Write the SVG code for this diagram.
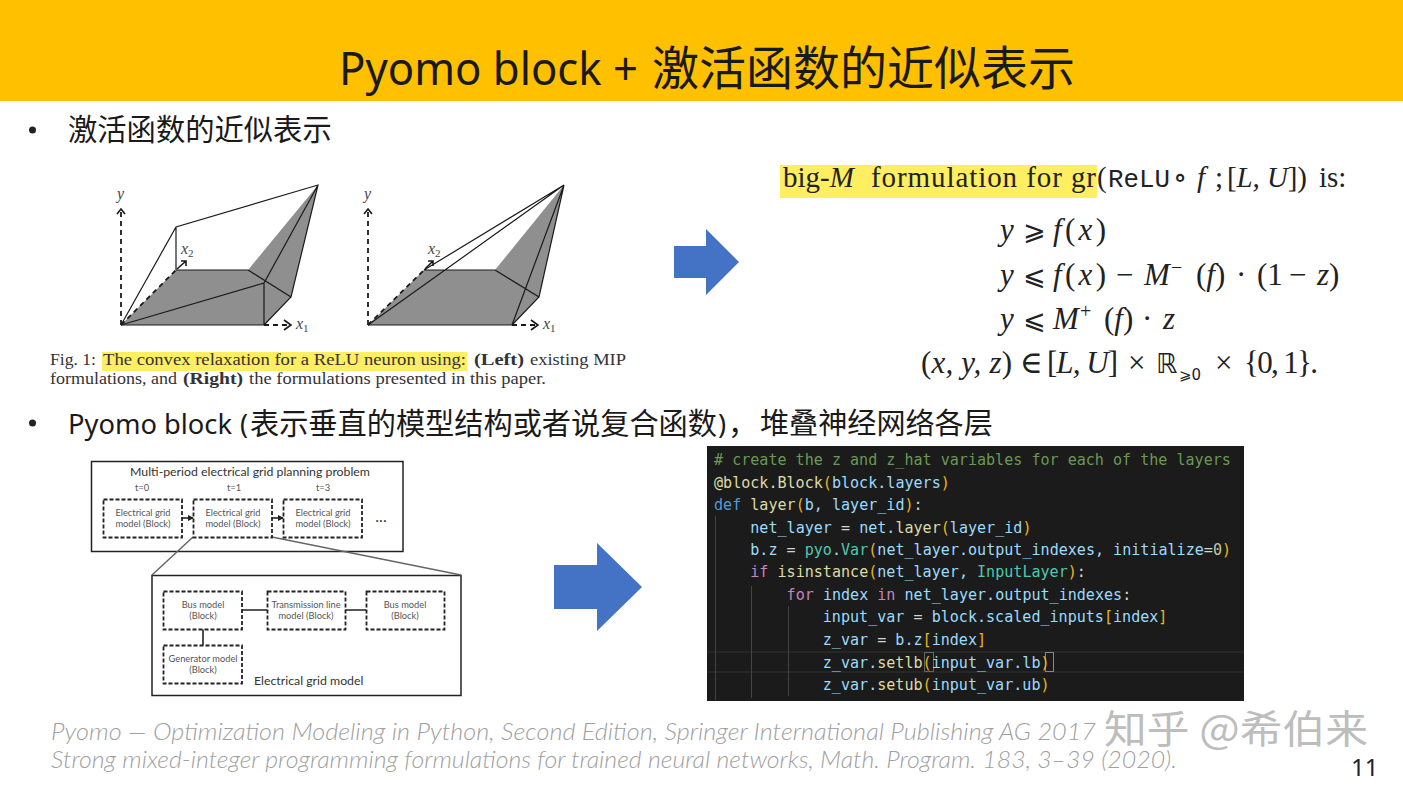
<svg xmlns="http://www.w3.org/2000/svg" width="1403" height="785" viewBox="0 0 1403 785">
<style>
.ui{font-family:"Noto Sans","Noto Sans CJK SC",sans-serif;fill:#1a1a1a}
.cj{font-family:"Noto Sans CJK SC",sans-serif;fill:#1a1a1a}
.m{font-family:"Liberation Serif","DejaVu Serif",serif;font-size:31px;fill:#222}
.m1{font-size:29px}
.i{font-style:italic}
.tt{font-family:"Liberation Mono",monospace;font-size:26px;fill:#222}
.sym{font-family:"DejaVu Sans",sans-serif;font-size:27px;fill:#222}
.sm{font-size:20px}
.cap{font-family:"Liberation Serif",serif;font-size:17px;fill:#333}
.ax{font-family:"Liberation Serif",serif;font-style:italic;font-size:16px;fill:#444}
.sub{font-size:11px;font-style:normal}
.dbox{fill:#fff;stroke:#222;stroke-width:1.800;stroke-dasharray:4 2}
.sbox{fill:#fff;stroke:#222;stroke-width:1.500}
.gl{font-family:Lato,"Open Sans",sans-serif;font-size:9.300px;fill:#555;text-anchor:middle}
.gt{font-family:Lato,"Open Sans",sans-serif;font-size:12.300px;fill:#333}
.code{font-family:"DejaVu Sans Mono",monospace;font-size:15.070px;fill:#9cdcfe;white-space:pre}
.cm{fill:#6a9955}.y{fill:#e8b818}.kw{fill:#569cd6}.pu{fill:#c586c0}.te{fill:#4ec9b0}.fn{fill:#dcdcaa}.nu{fill:#b5cea8}.w{fill:#d4d4d4}
.foot{font-family:Lato,"Open Sans",sans-serif;font-style:italic;font-weight:300;font-size:23.500px;fill:#a0a0a0}
.poly{fill:#8f8f8f;stroke:none}
.ln{fill:none;stroke:#1a1a1a;stroke-width:1.200}
.dash{fill:none;stroke:#1a1a1a;stroke-width:1.800;stroke-dasharray:5 4}
.head{fill:none;stroke:#1a1a1a;stroke-width:1.600}
.conn{fill:none;stroke:#222;stroke-width:1.600}
</style>
<defs>
<marker id="ah" markerWidth="6" markerHeight="6" refX="5" refY="3" orient="auto" markerUnits="userSpaceOnUse"><path d="M0,0L6,3L0,6Z" fill="#222"/></marker>
</defs>
<rect width="1403" height="785" fill="#fff"/>
<g id="header">
<rect width="1403" height="101" fill="#ffc000"/>
<text class="ui" x="339" y="85" font-size="45" textLength="299" lengthAdjust="spacingAndGlyphs">Pyomo block +</text>
<text class="cj" x="652" y="85" font-size="47">激活函数的近似表示</text>
</g>
<g id="bullet1">
<circle cx="32.500" cy="130" r="3.500" fill="#222"/>
<text class="cj" x="68" y="140" font-size="29.300">激活函数的近似表示</text>
</g>
<g id="fig-left">
<polygon class="poly" points="121,325 176,270 248,270 318,185 291,297 264,325"/>
<path class="ln" d="M121,325L176,227L318,185L291,297L264,325M176,227V270M121,325L264,283L318,185M264,283V325M248,270L291,297M176,270H248"/>
<path class="dash" d="M121,325V212M264,325H288M121,325L176,270"/>
<path class="ln" stroke-width="1.600" d="M121,325H264"/>
<path class="head" d="M117,214L121,209L125,214M284,320L291,325L284,330"/>
<path class="head" d="M177,269L186,261M181,261H186V266"/>
<text class="ax" x="117" y="199">y</text>
<text class="ax" x="181" y="254">x<tspan class="sub" dy="3">2</tspan></text>
<text class="ax" x="296" y="329">x<tspan class="sub" dy="3">1</tspan></text>
</g>
<g id="fig-right">
<polygon class="poly" points="368,325 424,270 495,270 564,185 539,297 512,325"/>
<path class="ln" d="M368,325L564,185L424,270M512,325L564,185L539,297L512,325M495,270L539,297M424,270H495"/>
<path class="dash" d="M368,325V212M512,325H535M368,325L424,270"/>
<path class="ln" stroke-width="1.600" d="M368,325H512"/>
<path class="head" d="M364,214L368,209L372,214M531,320L538,325L531,330"/>
<path class="head" d="M425,269L433,261M428,261H433V266"/>
<text class="ax" x="364" y="199">y</text>
<text class="ax" x="428" y="254">x<tspan class="sub" dy="3">2</tspan></text>
<text class="ax" x="543" y="329">x<tspan class="sub" dy="3">1</tspan></text>
</g>
<g id="fig-caption">
<rect x="102" y="352" width="365" height="19" fill="#fdee62"/>
<text class="cap" x="50" y="365" textLength="46" lengthAdjust="spacingAndGlyphs">Fig. 1:</text>
<text class="cap" x="103" y="365" textLength="363" lengthAdjust="spacingAndGlyphs">The convex relaxation for a ReLU neuron using:</text>
<text class="cap" x="474" y="365" font-weight="bold" textLength="50" lengthAdjust="spacingAndGlyphs">(Left)</text>
<text class="cap" x="530" y="365" textLength="96" lengthAdjust="spacingAndGlyphs">existing MIP</text>
<text class="cap" x="50" y="384" textLength="127" lengthAdjust="spacingAndGlyphs">formulations, and</text>
<text class="cap" x="183" y="384" font-weight="bold" textLength="60" lengthAdjust="spacingAndGlyphs">(Right)</text>
<text class="cap" x="249" y="384" textLength="297" lengthAdjust="spacingAndGlyphs">the formulations presented in this paper.</text>
</g>
<polygon id="arrow-top" fill="#4472c4" points="674,246 706,246 706,229 739,262 706,295 706,278 674,278"/>
<g id="formula">
<rect x="780" y="165" width="317" height="33" fill="#fdee62"/>
<text class="m m1" x="783" y="187">big-<tspan class="i">M</tspan></text>
<text class="m m1" x="871" y="187" textLength="225" lengthAdjust="spacing">formulation for gr</text>
<text class="m m1" x="1097" y="187">(</text>
<text class="tt" x="1108" y="187" textLength="62" lengthAdjust="spacingAndGlyphs">ReLU</text>
<text class="m m1" x="1173" y="187">∘</text>
<text class="m m1 i" x="1197" y="187">f</text>
<text class="m m1" x="1215" y="187">;</text>
<text class="m m1" x="1227" y="187" textLength="80" lengthAdjust="spacing">[<tspan class="i">L, U</tspan>])</text>
<text class="m m1" x="1319" y="187">is:</text>
<text class="m i" x="1000" y="240">y</text><text class="sym" x="1023" y="240">⩾</text><text class="m" x="1053" y="240" textLength="53" lengthAdjust="spacing"><tspan class="i">f</tspan>(<tspan class="i">x</tspan>)</text>
<text class="m i" x="1000" y="285">y</text><text class="sym" x="1023" y="285">⩽</text><text class="m" x="1053" y="285" textLength="53" lengthAdjust="spacing"><tspan class="i">f</tspan>(<tspan class="i">x</tspan>)</text>
<text class="m" x="1116" y="285">−</text><text class="m i" x="1144" y="285">M</text><text class="m sm" x="1171" y="274">−</text>
<text class="m" x="1196" y="285">(<tspan class="i">f</tspan>)</text><text class="m" x="1236" y="285">·</text><text class="m" x="1257" y="285">(1</text><text class="m" x="1289" y="285">−</text><text class="m" x="1317" y="285"><tspan class="i">z</tspan>)</text>
<text class="m i" x="1000" y="329">y</text><text class="sym" x="1023" y="329">⩽</text><text class="m i" x="1053" y="329">M</text><text class="m sm" x="1080" y="318">+</text>
<text class="m" x="1104" y="329">(<tspan class="i">f</tspan>)</text><text class="m" x="1142" y="329">·</text><text class="m i" x="1163" y="329">z</text>
<text class="m" x="921" y="373" textLength="91" lengthAdjust="spacing">(<tspan class="i">x, y, z</tspan>)</text><text class="m" x="1020" y="373">∈</text><text class="m" x="1047" y="373" textLength="71" lengthAdjust="spacing">[<tspan class="i">L, U</tspan>]</text>
<text class="m" x="1128" y="373">×</text><text class="sym" x="1156" y="373">ℝ</text><text class="sym" style="font-size:15px" x="1179" y="380">⩾0</text>
<text class="m" x="1215" y="373">×</text><text class="m" x="1244" y="373" textLength="74" lengthAdjust="spacing">{0, 1}.</text>
</g>
<g id="bullet2">
<circle cx="32.500" cy="423" r="3.500" fill="#222"/>
<text class="ui" x="68" y="434" font-size="27" textLength="164" lengthAdjust="spacingAndGlyphs">Pyomo block</text>
<text class="ui" x="240" y="434" font-size="27">(</text>
<text class="cj" x="250" y="434" font-size="29.200">表示垂直的模型结构或者说复合函数</text>
<text class="ui" x="718" y="434" font-size="27">)</text>
<text class="cj" x="728" y="434" font-size="29.200">，</text>
<text class="cj" x="760" y="434" font-size="29.100">堆叠神经网络各层</text>
</g>
<g id="grid-problem">
<rect class="sbox" x="91.500" y="461.500" width="311.500" height="90"/>
<text class="gt" x="130" y="476">Multi-period electrical grid planning problem</text>
<text class="gl" x="142" y="491">t=0</text>
<text class="gl" x="234" y="491">t=1</text>
<text class="gl" x="323" y="491">t=3</text>
<text class="gl" x="381" y="522" style="font-size:16px;fill:#333">...</text>
</g>
<g id="grid-model">
<rect x="152" y="575.500" width="309" height="120" fill="#fff" stroke="#222" stroke-width="1.500"/>
<text class="gt" x="254" y="685">Electrical grid model</text>
</g>
<g id="connectors">
<path class="conn" d="M182,518H193" marker-end="url(#ah)"/>
<path class="conn" d="M272,518H283" marker-end="url(#ah)"/>
<path class="conn" d="M242,610H267M345,610H366M203,629V645"/>
<path fill="none" stroke="#666" stroke-width="1.500" d="M193,537L152,575M272,537L461,575"/>
</g>
<g id="em-t0"><rect class="dbox" x="103.500" y="499.500" width="78.500" height="38"/><text class="gl" x="143" y="516">Electrical grid</text><text class="gl" x="143" y="527">model (Block)</text></g>
<g id="em-t1"><rect class="dbox" x="193.500" y="499.500" width="78.500" height="38"/><text class="gl" x="233" y="516">Electrical grid</text><text class="gl" x="233" y="527">model (Block)</text></g>
<g id="em-t3"><rect class="dbox" x="283.500" y="499.500" width="78.500" height="38"/><text class="gl" x="323" y="516">Electrical grid</text><text class="gl" x="323" y="527">model (Block)</text></g>
<g id="bus-a"><rect class="dbox" x="163.500" y="591.500" width="78.500" height="38"/><text class="gl" x="203" y="608">Bus model</text><text class="gl" x="203" y="619">(Block)</text></g>
<g id="line"><rect class="dbox" x="267.500" y="591.500" width="78" height="38"/><text class="gl" x="306" y="608">Transmission line</text><text class="gl" x="306" y="619">model (Block)</text></g>
<g id="bus-b"><rect class="dbox" x="366.500" y="591.500" width="78" height="38"/><text class="gl" x="405" y="608">Bus model</text><text class="gl" x="405" y="619">(Block)</text></g>
<g id="generator"><rect class="dbox" x="163.500" y="645.500" width="78.500" height="38"/><text class="gl" x="203" y="662">Generator model</text><text class="gl" x="203" y="673">(Block)</text></g>
<polygon id="arrow-bottom" fill="#4472c4" points="554,565 597,565 597,543 642,587 597,631 597,609 554,609"/>
<g id="code">
<rect x="707" y="446" width="537" height="255" fill="#1b1b1b"/>
<path stroke="#333" stroke-width="1" d="M707,652H1244M707,672H1244"/>
<path stroke="#444" stroke-width="1" d="M715.500,516V700M751.500,586V698M788.500,606V696"/>
<rect x="924.500" y="652.500" width="9" height="19" fill="none" stroke="#666"/>
<rect x="1045.500" y="652.500" width="8" height="19" fill="none" stroke="#888"/>
<text class="code cm" x="714" y="465"># create the z and z_hat variables for each of the layers</text>
<text class="code" x="714" y="487.500"><tspan class="fn">@block.Block</tspan><tspan class="y">(</tspan>block.layers<tspan class="y">)</tspan></text>
<text class="code" x="714" y="510"><tspan class="kw">def</tspan> <tspan class="fn">layer</tspan><tspan class="y">(</tspan>b, layer_id<tspan class="y">)</tspan><tspan class="w">:</tspan></text>
<text class="code" x="750.300" y="533">net_layer <tspan class="w">=</tspan> net.<tspan class="fn">layer</tspan><tspan class="y">(</tspan>layer_id<tspan class="y">)</tspan></text>
<text class="code" x="750.300" y="555">b.z <tspan class="w">=</tspan> <tspan class="te">pyo</tspan>.<tspan class="te">Var</tspan><tspan class="y">(</tspan>net_layer.output_indexes, initialize<tspan class="w">=</tspan><tspan class="nu">0</tspan><tspan class="y">)</tspan></text>
<text class="code" x="750.300" y="577"><tspan class="pu">if</tspan> <tspan class="fn">isinstance</tspan><tspan class="y">(</tspan>net_layer, <tspan class="te">InputLayer</tspan><tspan class="y">)</tspan><tspan class="w">:</tspan></text>
<text class="code" x="786.600" y="600"><tspan class="pu">for</tspan> index <tspan class="pu">in</tspan> net_layer.output_indexes<tspan class="w">:</tspan></text>
<text class="code" x="822.800" y="622">input_var <tspan class="w">=</tspan> block.scaled_inputs<tspan class="y">[</tspan>index<tspan class="y">]</tspan></text>
<text class="code" x="822.800" y="645">z_var <tspan class="w">=</tspan> b.z<tspan class="y">[</tspan>index<tspan class="y">]</tspan></text>
<text class="code" x="822.800" y="668">z_var.<tspan class="fn">setlb</tspan><tspan class="y">(</tspan>input_var.lb<tspan class="y">)</tspan></text>
<text class="code" x="822.800" y="690">z_var.<tspan class="fn">setub</tspan><tspan class="y">(</tspan>input_var.ub<tspan class="y">)</tspan></text>
</g>
<g id="footer">
<text class="foot" x="51" y="740" textLength="1045" lengthAdjust="spacingAndGlyphs">Pyomo — Optimization Modeling in Python, Second Edition, Springer International Publishing AG 2017</text>
<text class="foot" x="51" y="768" textLength="1126" lengthAdjust="spacingAndGlyphs">Strong mixed-integer programming formulations for trained neural networks, Math. Program. 183, 3–39 (2020).</text>
</g>
<text id="watermark" x="1104" y="743" font-family="'Noto Sans CJK SC',sans-serif" font-size="39" fill="#bdbdbd" stroke="#fff" stroke-width="1.500" paint-order="stroke" textLength="264" lengthAdjust="spacingAndGlyphs">知乎 @希伯来</text>
<text id="page" x="1351" y="776" font-family="'Noto Sans',sans-serif" font-size="24" fill="#222">11</text>
</svg>
